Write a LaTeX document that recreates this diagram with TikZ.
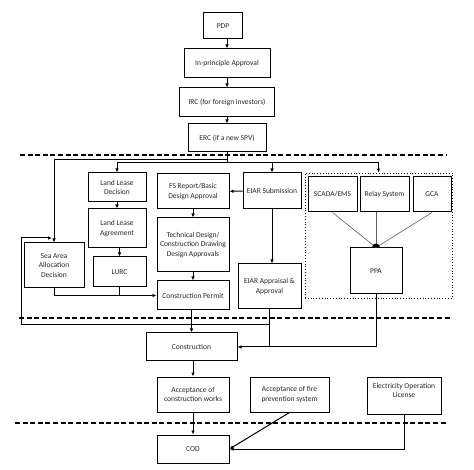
\documentclass[tikz,border=0pt]{standalone}
\usepackage{fontspec}
\setmainfont{Carlito}
\usepackage{tikz}
\usetikzlibrary{arrows.meta}
\tikzset{>={Latex[length=4pt,width=3.5pt]}}
\tikzset{
  stepnode/.style={draw, line width=1pt, align=center, inner sep=1pt,
    font=\fontsize{7.5}{9.3}\selectfont, text=black!85},
  flow/.style={->, line width=1pt},
  wire/.style={line width=1pt},
  stage/.style={line width=1.2pt, dash pattern=on 5pt off 2.6pt},
  feed/.style={line width=0.6pt, gray!75!black}
}

\begin{document}
\begin{tikzpicture}[x=1pt,y=-1pt]
  \useasboundingbox (0,0) rectangle (474,470);
  % approvals
  \node[stepnode, minimum width=39, minimum height=26] (pdp) at (223,26) {PDP};
  \node[stepnode, minimum width=86, minimum height=29] (ipa) at (227,63.5) {In-principle Approval};
  \node[stepnode, minimum width=95, minimum height=29] (irc) at (227,102.5) {IRC (for foreign investors)};
  \node[stepnode, minimum width=78, minimum height=28] (erc) at (227,138) {ERC (if a new SPV)};
  % stage lines
  \draw[stage] (20,155) -- (447,155);
  \draw[stage] (19,318) -- (452,318);
  \draw[stage] (15,423) -- (447,423);
  % site and design
  \node[stepnode, minimum width=58, minimum height=29] (lld) at (117,187.5) {Land Lease\\Decision};
  \node[stepnode, minimum width=58, minimum height=39] (lla) at (117,228.5) {Land Lease\\Agreement};
  \node[stepnode, minimum width=53, minimum height=30] (lurc) at (119.5,272) {LURC};
  \node[stepnode, minimum width=60, minimum height=45] (sea) at (54,265.5) {Sea Area\\Allocation\\Decision};
  \node[stepnode, minimum width=72, minimum height=35] (fsr) at (193,191.5) {FS Report/Basic\\Design Approval};
  \node[stepnode, minimum width=72, minimum height=54] (tdd) at (193,245) {Technical Design/\\Construction Drawing\\Design Approvals};
  \node[stepnode, minimum width=72, minimum height=29] (cp) at (193,295.5) {Construction Permit};
  \node[stepnode, minimum width=58, minimum height=36] (eias) at (272,191) {EIAR Submission};
  \node[stepnode, minimum width=63, minimum height=45] (eiaa) at (269.5,286.5) {EIAR Appraisal \&\\Approval};
  % grid group
  \node[draw, dotted, line width=0.8pt, minimum width=147, minimum height=125, inner sep=0pt] (grid) at (378.5,235.5) {};
  \node[stepnode, minimum width=49, minimum height=35] (scada) at (332.5,194.5) {SCADA/EMS};
  \node[stepnode, minimum width=49, minimum height=35] (relay) at (384.5,194.5) {Relay System};
  \node[stepnode, minimum width=38, minimum height=35] (gca) at (432,194.5) {GCA};
  \node[stepnode, minimum width=52, minimum height=46] (ppa) at (376,271) {PPA};
  % construction and operation
  \node[stepnode, minimum width=91, minimum height=28] (con) at (191.5,347) {Construction};
  \node[stepnode, minimum width=72, minimum height=35] (acw) at (193,394.5) {Acceptance of\\construction works};
  \node[stepnode, minimum width=79, minimum height=35] (afp) at (289.5,394.5) {Acceptance of fire\\prevention system};
  \node[stepnode, minimum width=74, minimum height=37] (eol) at (404,395.5) {Electricity Operation\\License\\[1pt]};
  \node[stepnode, minimum width=72, minimum height=28] (cod) at (193,449) {COD};

  \coordinate (split) at (227,163);
  \coordinate (seain) at (52,238);
  \coordinate (backturn) at (21,325);

  \draw[flow] (pdp.south -| ipa) -- (ipa.north);
  \draw[flow] (ipa) -- (irc);
  \draw[flow] (irc) -- (erc);
  \draw[wire] (erc.south) -- (split);
  \draw[flow] (erc.south |- 0,160) -| (sea.north);
  \draw[flow] (split) -| (lld.north);
  \draw[flow] (split) -| (eias.north);
  \draw[flow] (split) -| (grid.north);
  \draw[flow] (lld) -- (lla);
  \draw[flow] (lla.south -| lurc) -- (lurc.north);
  \draw[flow] (fsr) -- (tdd);
  \draw[flow] (tdd) -- (cp);
  \draw[flow] (eias) -- (fsr);
  \draw[flow] (eias.south) -- (eias.south |- eiaa.north);
  \draw[flow] (sea.south) |- (cp.west);
  \draw[wire] (lurc.south) -- (lurc.south |- cp.west);
  \draw[flow] (cp.south -| con) -- (con.north);
  \draw[flow] (eiaa.south) |- (con.east);
  \draw[wire] (ppa.south) |- (eiaa.south |- con.east);
  \draw[flow] (eiaa.south |- backturn) -- (backturn) |- (seain);
  \draw[feed] (scada.south) -- (ppa.north);
  \draw[feed] (relay.south -| ppa.north) -- (ppa.north);
  \draw[feed] (gca.south) -- (ppa.north);
  \fill (ppa.north) ++(-4,0) arc[start angle=180, end angle=360, radius=4] -- cycle;
  \draw[flow] (con.south -| acw) -- (acw.north);
  \draw[flow] (acw) -- (cod);
  \draw[flow] (afp.south) -- (cod.east);
  \draw[flow] (eol.south) |- (cod.east);
\end{tikzpicture}
\end{document}
